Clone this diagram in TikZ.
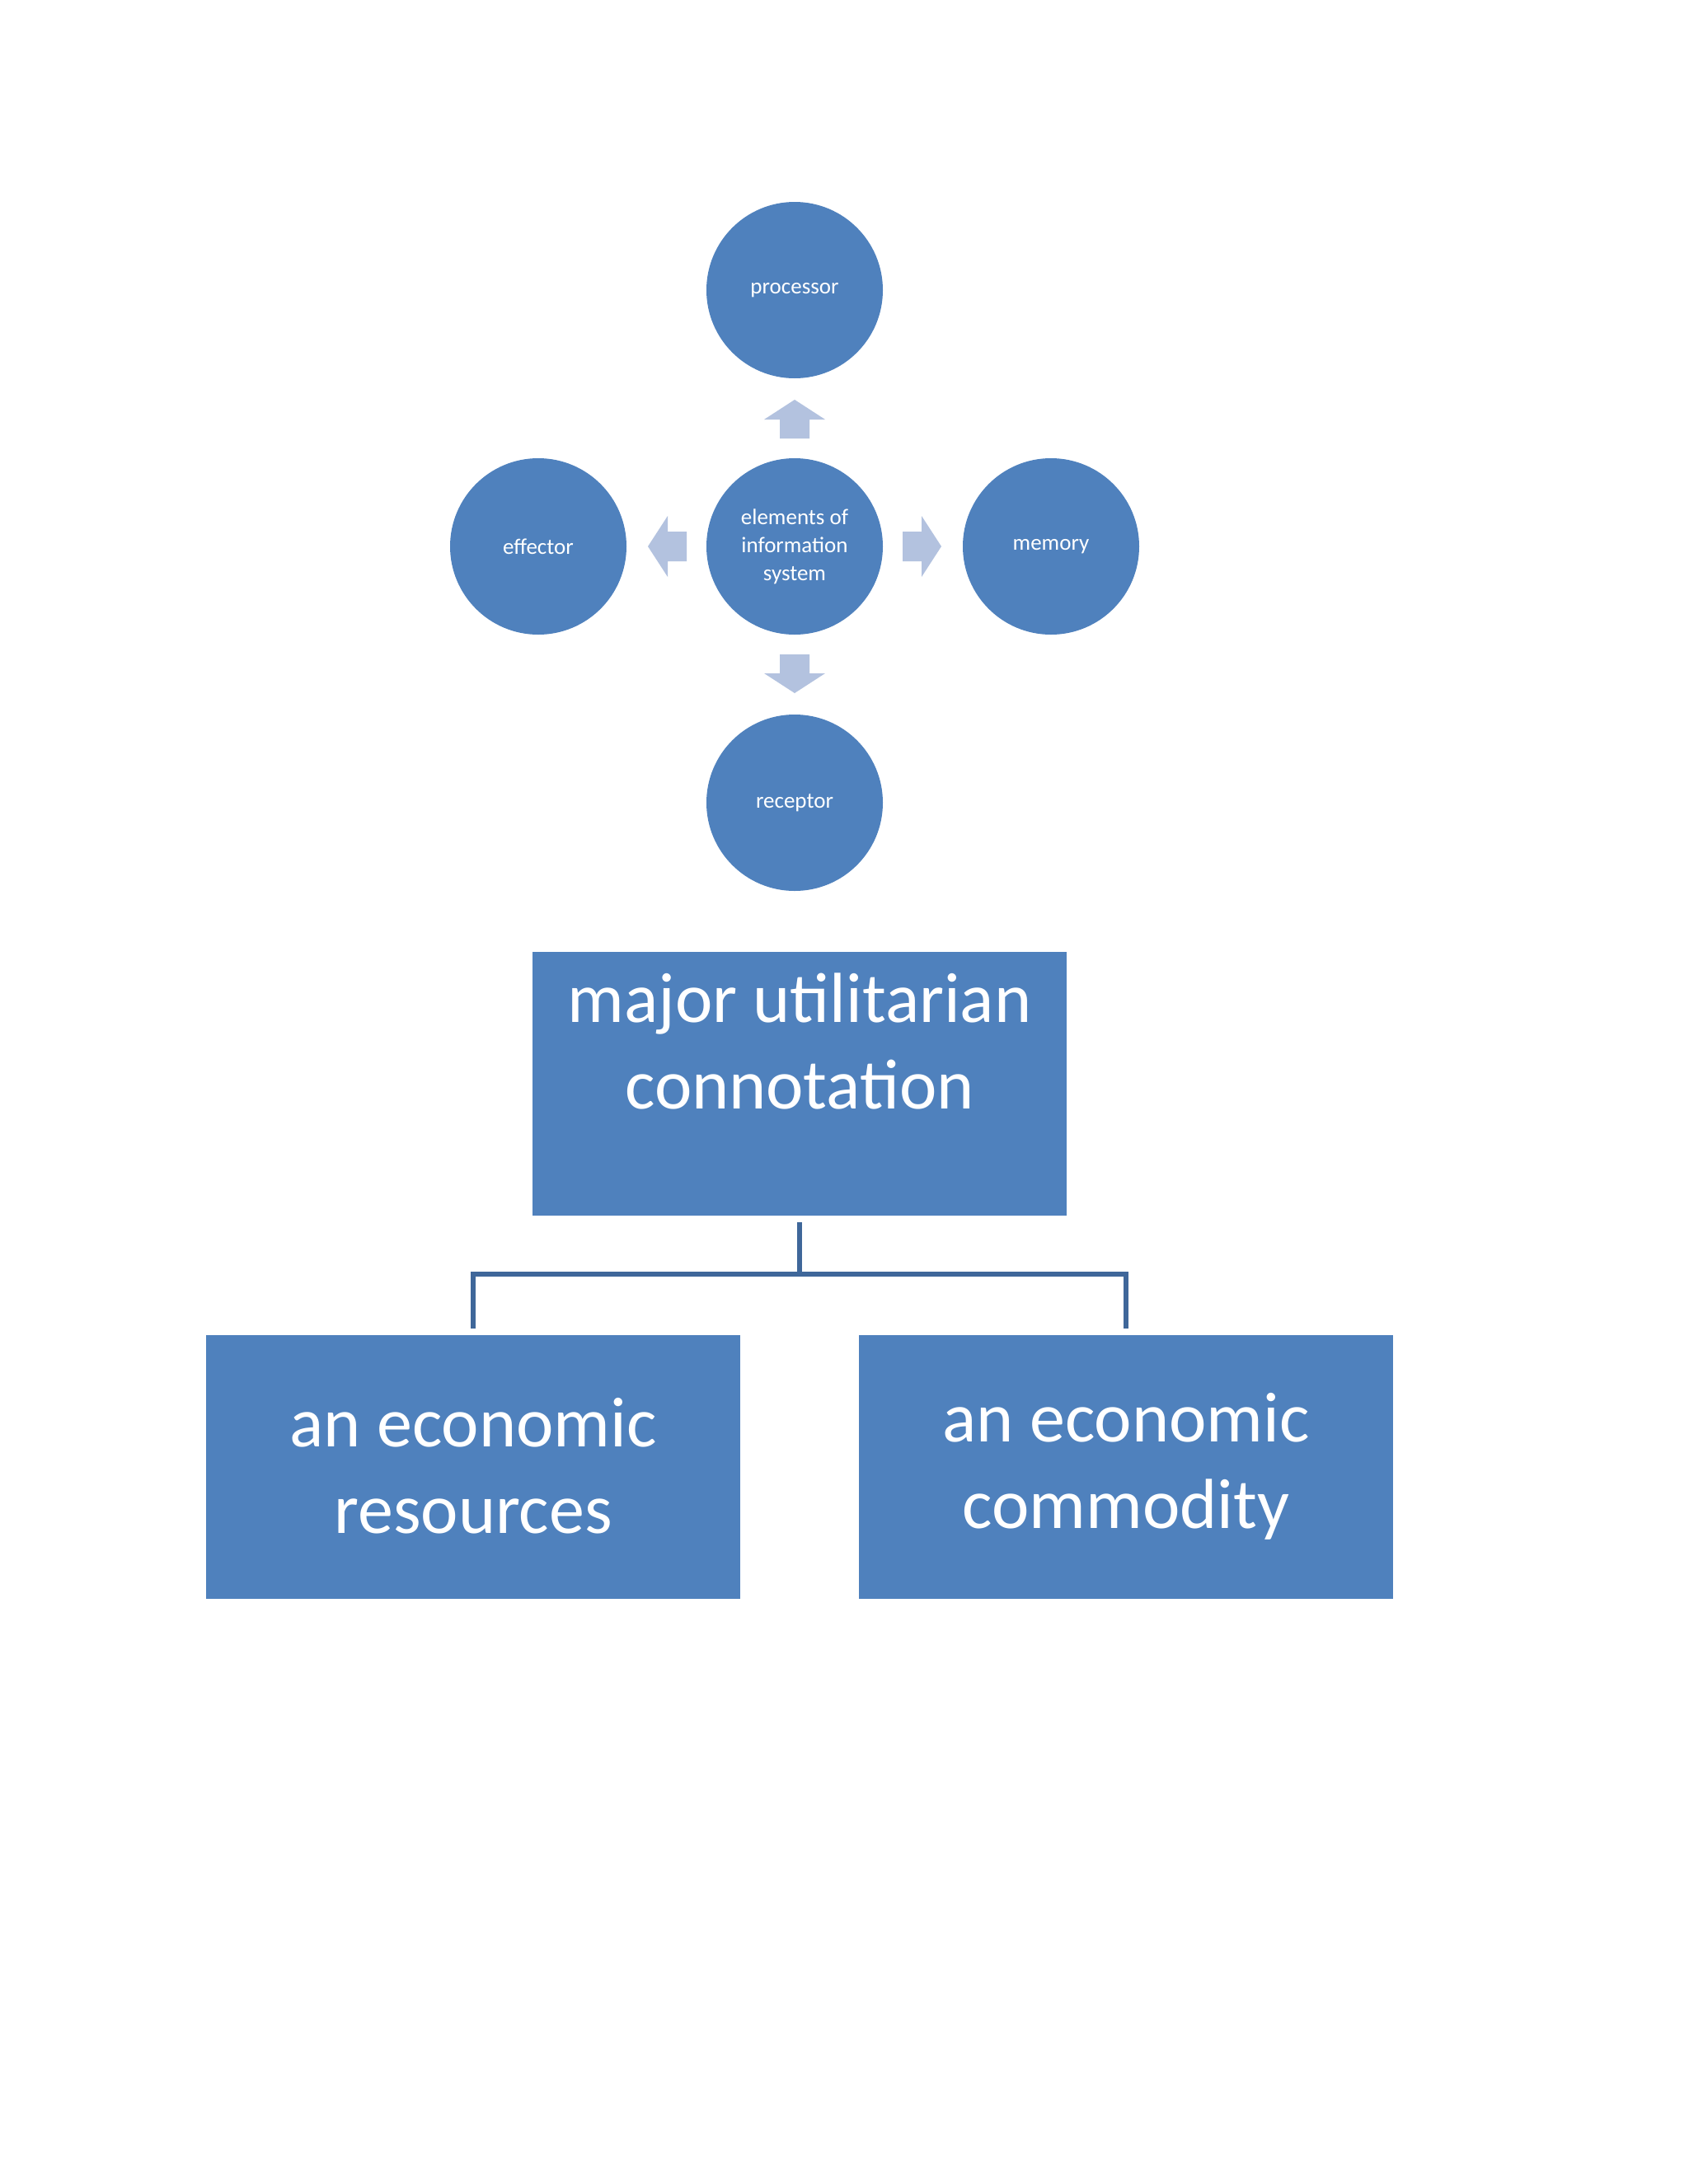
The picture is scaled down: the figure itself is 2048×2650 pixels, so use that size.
\documentclass[tikz,border=0pt]{standalone}
\usepackage{fontspec}
\setmainfont{Carlito}
\definecolor{cblue}{HTML}{4F81BD}
\definecolor{carr}{HTML}{B3C2DF}
\definecolor{cline}{HTML}{3F679A}
\begin{document}
\begin{tikzpicture}[x=1pt,y=1pt,
  circ/.style={circle,fill=cblue,minimum size=214,inner sep=0,text=white,font=\fontsize{27}{34}\selectfont,align=center},
  bigbox/.style={fill=cblue,minimum width=648,minimum height=320,inner sep=0},
  bigtxt/.style={text=white,font=\fontsize{86}{105}\selectfont,align=center},
  conn/.style={draw=cline,line width=6}]
\useasboundingbox[fill=white] (0,0) rectangle (2048,-2650);
\node[circ] (c) at (964,-663) {elements of\\information\\system};
\node[circ] (p) at (964,-352) {processor};
\node[circ] (r) at (964,-974) {receptor};
\node[circ] (e) at (653,-663) {effector};
\node[circ] (m) at (1275,-663) {memory};
\foreach \x/\y/\a in {964/-509/90, 964/-817/-90, 810/-663/180, 1118/-663/0}
  \fill[carr,shift={(\x,\y)},rotate=\a] (-23,-18)--(0,-18)--(0,-37)--(24,0)--(0,37)--(0,18)--(-23,18)--cycle;
\node[bigbox] (top) at (970,-1315) {};
\node[bigbox] (lb) at (574,-1780) {};
\node[bigbox] (rb) at (1366,-1780) {};
\node[bigtxt] at (970,-1263) {major utilitarian\\connotation};
\node[bigtxt] at (574,-1779) {an economic\\resources};
\node[bigtxt] at (1366,-1779) {an economic\\commodity};
\coordinate (j) at (970,-1546);
\draw[conn] ([yshift=-8]top.south) -- (j);
\draw[conn] (j) -| ([yshift=8]lb.north);
\draw[conn] (j) -| ([yshift=8]rb.north);
\end{tikzpicture}
\end{document}
